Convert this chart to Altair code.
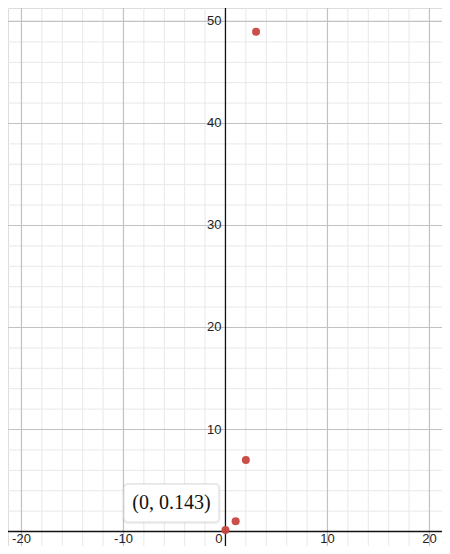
import altair as alt
import pandas as pd

# data
px = [0, 1, 2, 3]
py = [0.143, 1, 7, 49]
label_point = "(0, 0.143)"

minor_x = list(range(-20, 23, 2))
minor_y = list(range(-2, 52, 2))
major_x = [-20, -10, 10, 20]
major_y = [10, 20, 30, 40, 50]
x_tick_labels = ["-20", "-10", "10", "20"]
y_tick_labels = ["10", "20", "30", "40", "50"]

XD = [-21.32, 21.23]
YD = [-1.42, 51.32]

xs = alt.Scale(domain=XD, nice=False, zero=False)
ys = alt.Scale(domain=YD, nice=False, zero=False)

pts = pd.DataFrame({"x": px, "y": py})
mx = pd.DataFrame({"v": minor_x})
my = pd.DataFrame({"v": minor_y})
Mx = pd.DataFrame({"v": major_x, "t": x_tick_labels, "z": 0})
My = pd.DataFrame({"v": major_y, "t": y_tick_labels, "z": 0})
origin = pd.DataFrame({"v": [0], "t": ["0"], "z": [0]})

X = lambda f: alt.X(f, type="quantitative", scale=xs, axis=None)
Y = lambda f: alt.Y(f, type="quantitative", scale=ys, axis=None)

minor_v = alt.Chart(mx).mark_rule(color="#e8e8e8", strokeWidth=1).encode(x=X("v"))
minor_h = alt.Chart(my).mark_rule(color="#e8e8e8", strokeWidth=1).encode(y=Y("v"))
major_v = alt.Chart(Mx).mark_rule(color="#c2c2c2", strokeWidth=1.2).encode(x=X("v"))
major_h = alt.Chart(My).mark_rule(color="#c2c2c2", strokeWidth=1.2).encode(y=Y("v"))

axis_x = alt.Chart(origin).mark_rule(color="#111", strokeWidth=1.3).encode(y=Y("z"))
axis_y = alt.Chart(origin).mark_rule(color="#111", strokeWidth=1.3).encode(x=X("v"))

font = "Liberation Sans"
xlab = alt.Chart(Mx).mark_text(font=font, fontSize=13, color="#222", dy=11, baseline="alphabetic").encode(
    x=X("v"), y=Y("z"), text="t:N")
ylab = alt.Chart(My).mark_text(font=font, fontSize=13, color="#222", dx=-4, align="right", baseline="middle").encode(
    x=X("z"), y=Y("v"), text="t:N")
olab = alt.Chart(origin).mark_text(
    font=font, fontSize=13, color="#222", dx=-3, dy=11, align="right", baseline="alphabetic").encode(
    x=X("v"), y=Y("z"), text="t:N")

points = alt.Chart(pts).mark_circle(size=64, color="#c74440", opacity=0.95).encode(x=X("x"), y=Y("y"))

first = pts.iloc[[0]].assign(t=label_point)
shadow = alt.Chart(first).mark_rect(
    fill="#000", opacity=0.06, cornerRadius=5,
    xOffset=-103, x2Offset=-5, yOffset=-47, y2Offset=-6).encode(
    x=X("x"), x2="x", y=Y("y"), y2="y")
box = alt.Chart(first).mark_rect(
    fill="white", stroke="#dcdcdc", strokeWidth=1, cornerRadius=4,
    xOffset=-101.5, x2Offset=-6.5, yOffset=-46, y2Offset=-8).encode(
    x=X("x"), x2="x", y=Y("y"), y2="y")
boxtext = alt.Chart(first).mark_text(
    font="Liberation Serif", fontSize=20, color="#111", dx=-54, dy=-27,
    align="center", baseline="middle").encode(x=X("x"), y=Y("y"), text="t:N")

chart = alt.layer(
    minor_v, minor_h, major_v, major_h, axis_x, axis_y,
    xlab, ylab, olab, points, shadow, box, boxtext
).properties(width=434, height=538, padding=0, autosize=alt.AutoSizeParams(type="none")
).configure_view(stroke=None).configure(background="white")

chart.save("out.html", embed_options={"renderer": "svg", "actions": False})
